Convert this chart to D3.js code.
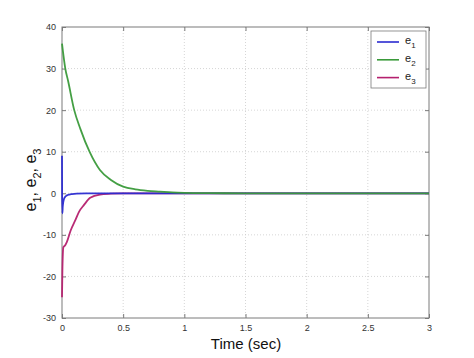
<!DOCTYPE html>
<html><head><meta charset="utf-8">
<script src="https://cdn.jsdelivr.net/npm/d3@7"></script>
<style>body{margin:0;background:#fff}svg{display:block}</style>
</head><body><svg id="c" width="474" height="358"></svg>
<script>
const xTicks = [0, 0.5, 1, 1.5, 2, 2.5, 3];
const yTicks = [-30, -20, -10, 0, 10, 20, 30, 40];
const seriesNames = ["1", "2", "3"];
const seriesColors = ["#2a2ad0", "#3a9a3a", "#b5206e"];
const e1T = [0, 0.001, 0.003, 0.006, 0.01, 0.015, 0.02, 0.027, 0.04, 0.06, 0.08, 0.12, 0.2, 0.3, 3];
const e1V = [9, 0, -4.8, -3.2, -2.2, -1.5, -1.1, -0.8, -0.5, -0.3, -0.2, -0.08, -0.02, 0, 0];
const e2T = [0, 0.027, 0.05, 0.1, 0.15, 0.225, 0.31, 0.4, 0.5, 0.6, 0.7, 0.8, 0.9, 1.0, 1.2, 1.5, 3];
const e2V = [36, 30, 27, 20, 15.5, 10, 5.6, 3.2, 1.6, 0.95, 0.6, 0.4, 0.2, 0.1, 0.03, 0, 0];
const e3T = [0, 0.003, 0.007, 0.011, 0.016, 0.024, 0.04, 0.07, 0.11, 0.14, 0.18, 0.23, 0.31, 0.4, 0.5, 3];
const e3V = [-25, -19, -14.5, -13, -12.8, -12.6, -11.7, -9, -6.4, -4.4, -2.8, -1.1, -0.3, -0.1, 0, 0];
const seriesT = [e1T, e2T, e3T];
const seriesV = [e1V, e2V, e3V];

const svg = d3.select("#c");
const L = 62, R = 429, T = 27, B = 318;
const x = d3.scaleLinear().domain([0, 3]).range([L, R]);
const y = d3.scaleLinear().domain([-30, 40]).range([B, T]);
const axisCol = "#7a7a7a";
const font = "Arial, 'Liberation Sans', sans-serif";

// grid
const g = svg.append("g");
g.selectAll(".gx").data(xTicks.slice(1, -1)).enter().append("line")
  .attr("x1", d => x(d)).attr("x2", d => x(d)).attr("y1", T).attr("y2", B)
  .attr("stroke", "#cccccc").attr("stroke-width", 0.8).attr("stroke-dasharray", "1,2");
g.selectAll(".gy").data(yTicks.slice(1, -1)).enter().append("line")
  .attr("y1", d => y(d)).attr("y2", d => y(d)).attr("x1", L).attr("x2", R)
  .attr("stroke", "#cccccc").attr("stroke-width", 0.8).attr("stroke-dasharray", "1,2");

// axes
const styleAxis = sel => {
  sel.select(".domain").remove();
  sel.selectAll(".tick line").attr("stroke", axisCol);
  sel.selectAll(".tick text").attr("fill", "#333").attr("font-size", 9).attr("font-family", font);
};
svg.append("g").attr("transform", `translate(0,${B})`)
  .call(d3.axisBottom(x).tickValues(xTicks).tickFormat(d => String(d)).tickSizeInner(-4).tickSizeOuter(0).tickPadding(7))
  .call(styleAxis);
svg.append("g").attr("transform", `translate(0,${T})`)
  .call(d3.axisTop(x).tickValues(xTicks).tickFormat("").tickSizeInner(-4).tickSizeOuter(0))
  .call(styleAxis);
svg.append("g").attr("transform", `translate(${L},0)`)
  .call(d3.axisLeft(y).tickValues(yTicks).tickFormat(d => String(d)).tickSizeInner(-4).tickSizeOuter(0).tickPadding(6))
  .call(styleAxis);
svg.append("g").attr("transform", `translate(${R},0)`)
  .call(d3.axisRight(y).tickValues(yTicks).tickFormat("").tickSizeInner(-4).tickSizeOuter(0))
  .call(styleAxis);

svg.append("rect").attr("x", L).attr("y", T).attr("width", R - L).attr("height", B - T)
  .attr("fill", "none").attr("stroke", axisCol).attr("stroke-width", 1);

// lines
const line = d3.line().x(d => x(d[0])).y(d => y(d[1])).curve(d3.curveMonotoneX);
[2, 0, 1].forEach(i => {
  const pts = seriesT[i].map((t, j) => [t, seriesV[i][j]]);
  svg.append("path").attr("d", line(pts)).attr("fill", "none")
    .attr("stroke", seriesColors[i]).attr("stroke-width", 1.8).attr("opacity", 0.95);
});

// legend
const lg = svg.append("g");
lg.append("rect").attr("x", 371).attr("y", 31).attr("width", 55).attr("height", 57)
  .attr("fill", "#fff").attr("stroke", axisCol).attr("stroke-width", 0.8);
seriesNames.forEach((n, i) => {
  const yy = 42 + i * 17.8;
  lg.append("line").attr("x1", 377).attr("x2", 399).attr("y1", yy).attr("y2", yy)
    .attr("stroke", seriesColors[i]).attr("stroke-width", 1.6);
  const t = lg.append("text").attr("x", 405).attr("y", yy + 2).attr("font-size", 11)
    .attr("font-family", font).attr("fill", "#222");
  t.append("tspan").text("e");
  t.append("tspan").attr("dy", 4).attr("font-size", 8).text(n);
});

// axis labels
svg.append("text").attr("x", 246).attr("y", 349).attr("text-anchor", "middle")
  .attr("font-size", 15).attr("font-family", font).attr("fill", "#111").text("Time (sec)");
const yl = svg.append("text").attr("transform", "translate(36,180) rotate(-90)")
  .attr("text-anchor", "middle").attr("font-size", 16).attr("font-family", font).attr("fill", "#111");
seriesNames.forEach((n, i) => {
  yl.append("tspan").text("e");
  yl.append("tspan").attr("dy", 5).attr("font-size", 11).text(n);
  yl.append("tspan").attr("dy", -5).text(i < 2 ? ", " : "");
});
</script></body></html>
